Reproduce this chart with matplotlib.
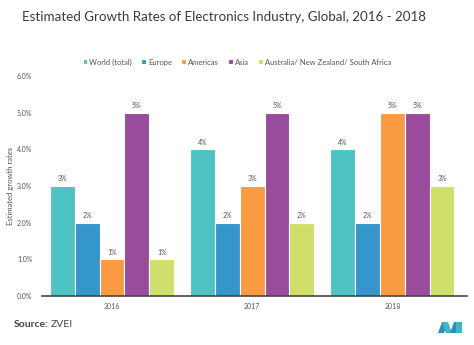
import matplotlib
matplotlib.use("Agg")
import matplotlib.pyplot as plt
import numpy as np
from matplotlib.patches import Polygon

years = ["2016", "2017", "2018"]
series = ["World (total)", "Europe", "Americas", "Asia", "Australia/ New Zealand/ South Africa"]
world = [3, 4, 4]
europe = [2, 2, 2]
americas = [1, 3, 5]
asia = [5, 5, 5]
aus = [1, 2, 3]
values = [world, europe, americas, asia, aus]
colors = ["#4FC2C3", "#3596CB", "#FA9A42", "#9A4C9C", "#CFDF6A"]
yticks = [0, 1, 2, 3, 4, 5, 6]
ytick_labels = ["0.0%", "1.0%", "2.0%", "3.0%", "4.0%", "5.0%", "6.0%"]

plt.rcParams['font.family'] = ['Lato', 'DejaVu Sans']

fig = plt.figure(figsize=(4.74, 3.45), dpi=100)
ax = fig.add_axes([0.0886, 0.142, 0.896, 0.638])

x = np.arange(len(years))
slot = 0.177
for i, (name, vals, c) in enumerate(zip(series, values, colors)):
    pos = x + (i - 2) * slot
    ax.bar(pos, vals, width=slot, color=c, edgecolor="white", linewidth=0.8, label=name)
    for p, v in zip(pos, vals):
        ax.text(p, v + 0.1, f"{v}%", ha="center", va="bottom", fontsize=5, color="#555555")

ax.set_xlim(-0.5, 2.53)
ax.set_ylim(0, 6)
ax.set_yticks(yticks)
ax.set_yticklabels(ytick_labels)
ax.set_xticks(x)
ax.set_xticklabels(years)
ax.tick_params(axis="both", length=0, labelsize=5, colors="#555555")
ax.tick_params(axis="x", pad=5)
ax.tick_params(axis="y", pad=7)
for s in ["top", "right", "left"]:
    ax.spines[s].set_visible(False)
ax.spines["bottom"].set_color("#444444")
ax.spines["bottom"].set_linewidth(1.2)
ax.set_ylabel("Estimated growth rates", fontsize=5.5, color="#555555", labelpad=2)

fig.legend(loc="center", bbox_to_anchor=(0.5, 0.82), ncol=5, frameon=False,
           fontsize=5.5, handlelength=0.6, handleheight=0.6, handletextpad=0.3,
           columnspacing=1.2, labelcolor="#555555")

fig.text(0.046, 0.951, "Estimated Growth Rates of Electronics Industry, Global, 2016 - 2018",
         fontsize=9.6, color="#3a3a3a", ha="left", va="center")

fig.text(0.03, 0.058, "Source:", fontsize=7.5, fontweight="bold", color="#444444", ha="left", va="center")
fig.text(0.108, 0.058, "ZVEI", fontsize=7.5, color="#444444", ha="left", va="center")

# logo
def px(xp, yp):
    return (xp / 474, 1 - yp / 345)
logo_polys = [
    ([(438, 333), (444, 333), (448, 322), (442, 322)], "#2F8FBF"),
    ([(442, 322), (448, 322), (452, 333), (446, 333)], "#3FB6C4"),
    ([(450, 333), (456, 333), (460, 322), (454, 322)], "#2F8FBF"),
    ([(456, 322), (462, 322), (462, 333), (456, 333)], "#3FB6C4"),
]
for pts, c in logo_polys:
    fig.patches.append(Polygon([px(a, b) for a, b in pts], closed=True, transform=fig.transFigure,
                               facecolor=c, edgecolor="none"))

fig.savefig("out.png", dpi=100, facecolor="white")
